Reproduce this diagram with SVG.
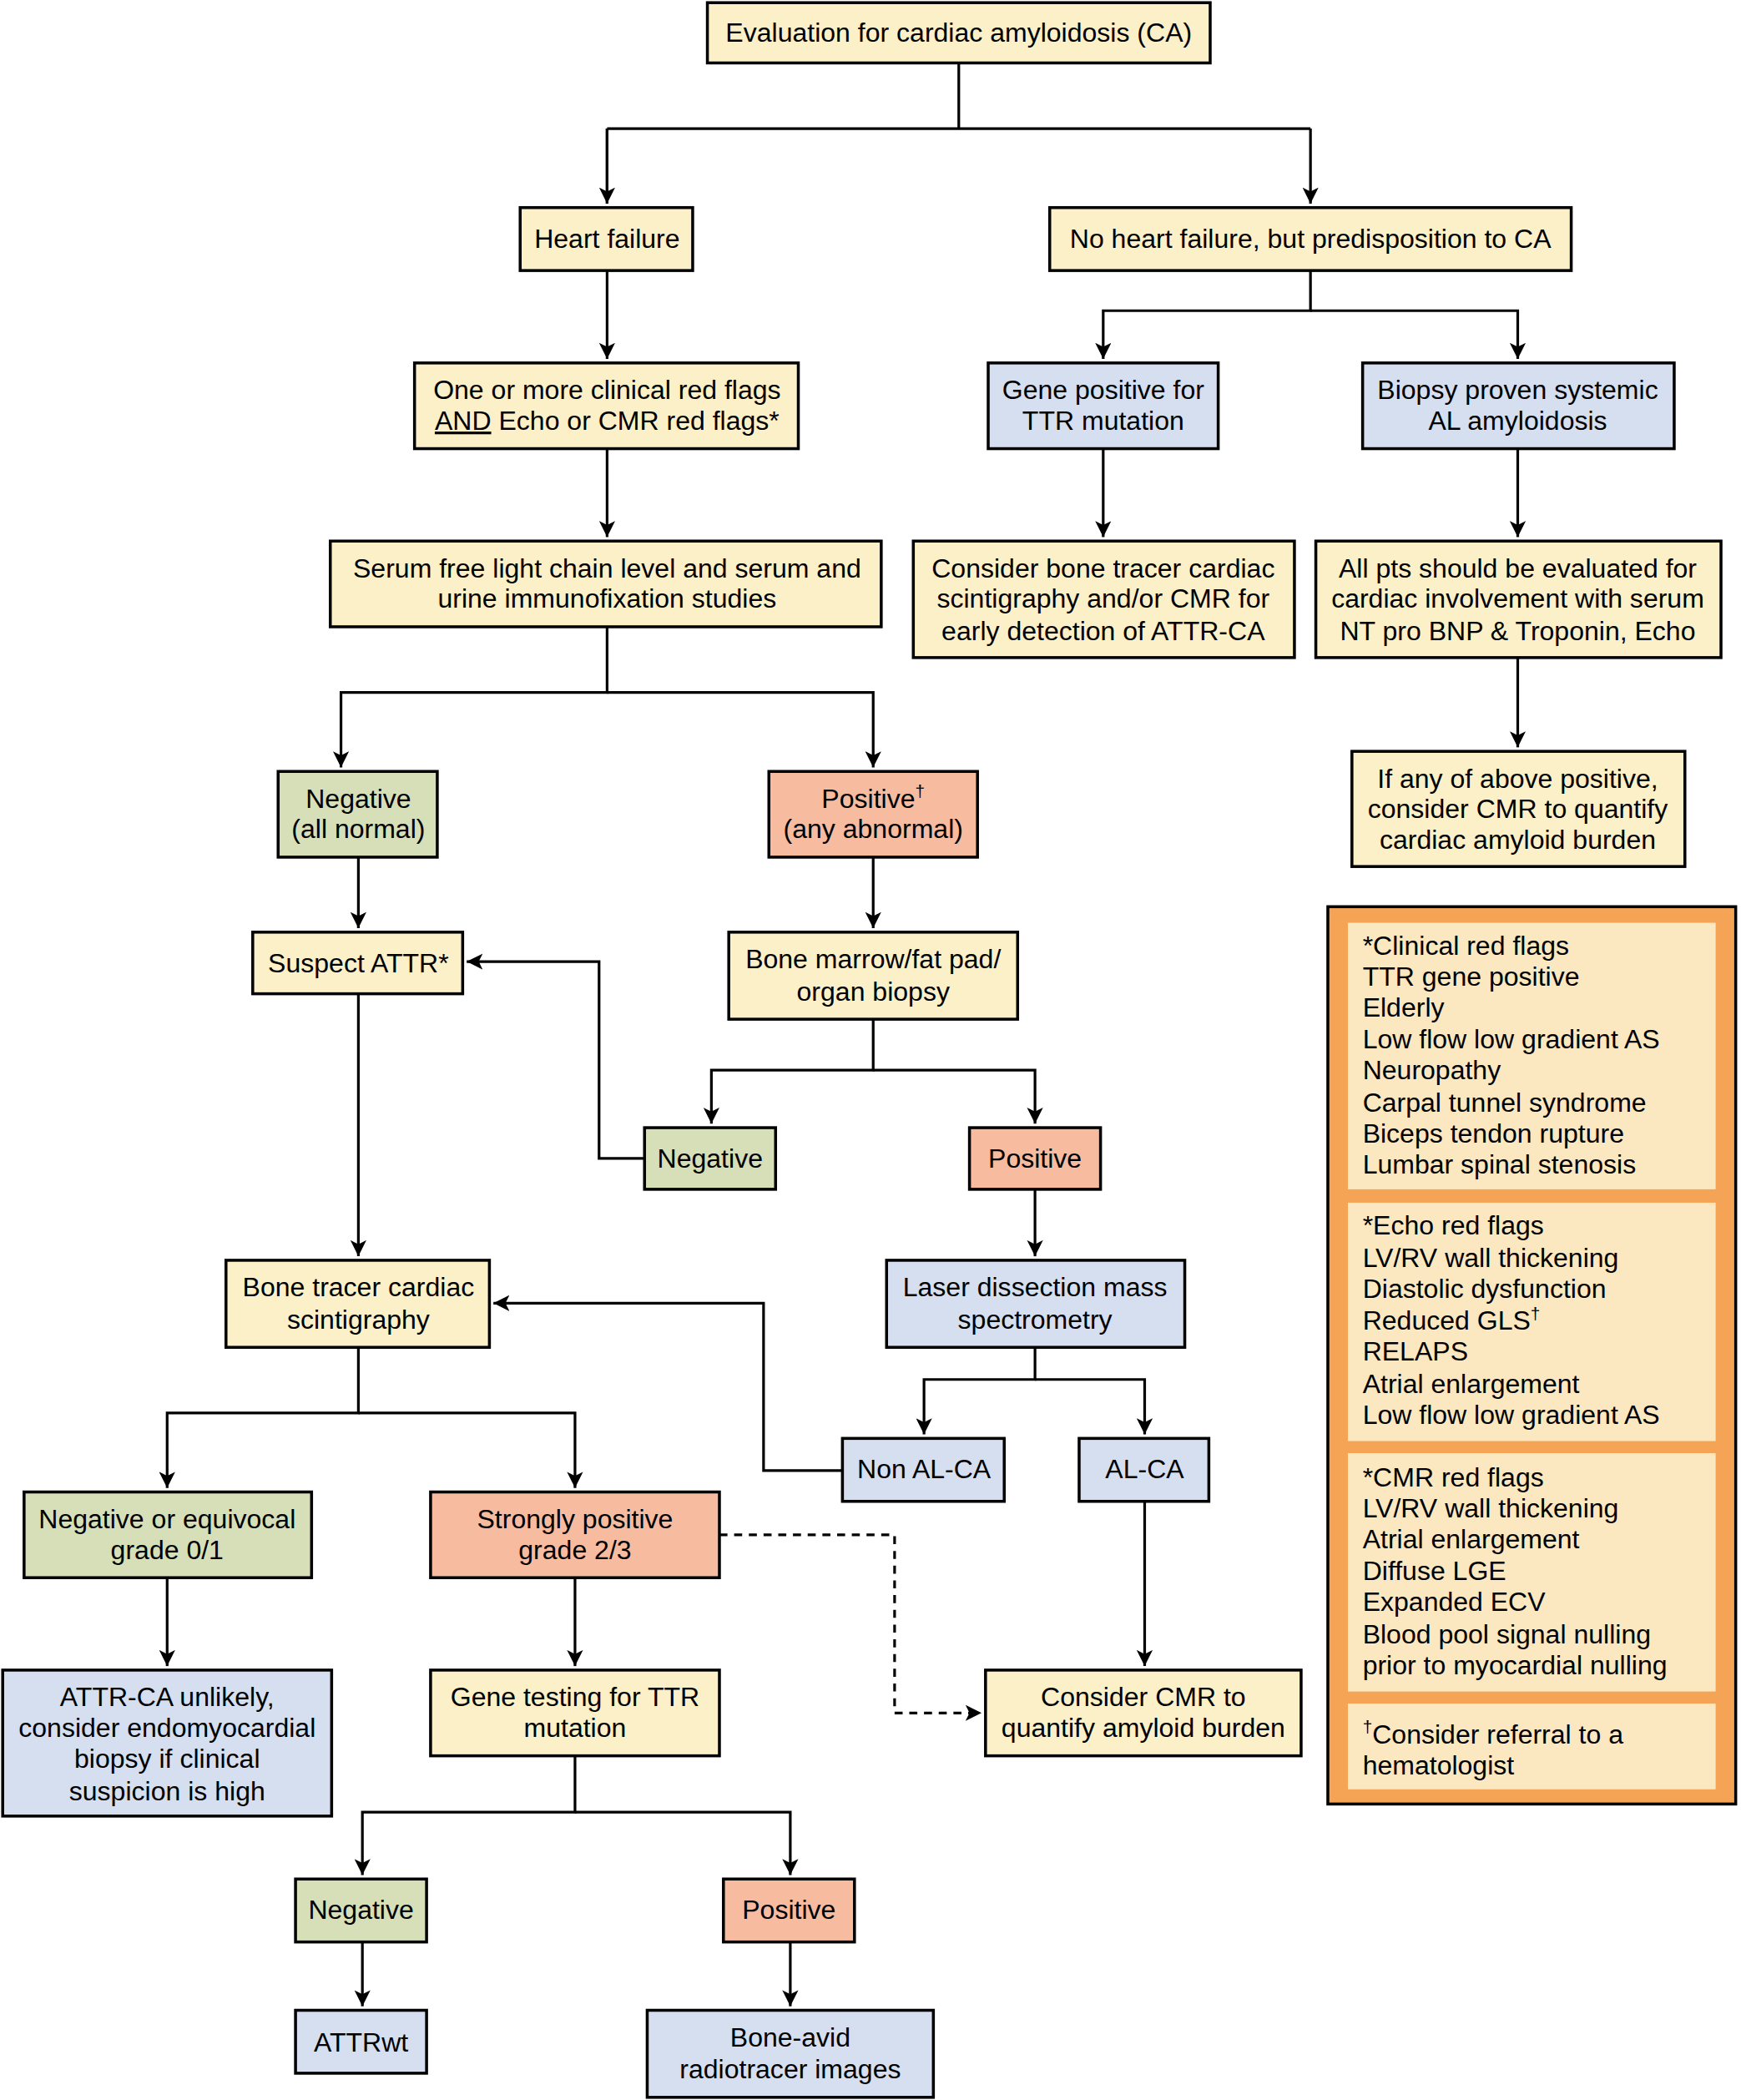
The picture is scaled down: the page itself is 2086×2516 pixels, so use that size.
<svg xmlns="http://www.w3.org/2000/svg" width="2086" height="2516" viewBox="0 0 2086 2516">
<style>
.b{stroke:#000;stroke-width:2.2}
.y{fill:#FCF0C8}.bl{fill:#D5DFF0}.g{fill:#D6DFB8}.s{fill:#F7BBA0}
text{font-family:"Liberation Sans",Arial,sans-serif;font-size:20px;fill:#000}
.c{text-anchor:middle}
.l{fill:none;stroke:#000;stroke-width:2}
</style>
<defs><marker id="a" viewBox="0 0 10 10" refX="10" refY="5" markerWidth="7" markerHeight="7" markerUnits="userSpaceOnUse" orient="auto"><path d="M0,0L10,5L0,10L3,5z" fill="#000" transform="scale(1)"/></marker>
<marker id="ar" viewBox="0 0 12 12" refX="12" refY="6" markerWidth="12" markerHeight="12" markerUnits="userSpaceOnUse" orient="auto"><path d="M0,0L12,6L0,12L3,6z" fill="#000"/></marker></defs>
<rect width="2086" height="2516" fill="#fff"/>
<g transform="scale(1.6022,1.6046)">
<g id="connectors">
<path class="l" d="M717,47V96M454,96H980M454,96V152M980,96V152" marker-end="url(#ar)"/>
<path class="l" d="M454,96V152" marker-end="url(#ar)"/>
<path class="l" d="M454,202V268" marker-end="url(#ar)"/>
<path class="l" d="M980,202V232H825V268" marker-end="url(#ar)"/>
<path class="l" d="M980,232H1135V268" marker-end="url(#ar)"/>
<path class="l" d="M454,335V401" marker-end="url(#ar)"/>
<path class="l" d="M825,335V401" marker-end="url(#ar)"/>
<path class="l" d="M1135,335V401" marker-end="url(#ar)"/>
<path class="l" d="M1135,491V558" marker-end="url(#ar)"/>
<path class="l" d="M454,468V517H255V573" marker-end="url(#ar)"/>
<path class="l" d="M454,517H653V573" marker-end="url(#ar)"/>
<path class="l" d="M268,640V693" marker-end="url(#ar)"/>
<path class="l" d="M653,640V693" marker-end="url(#ar)"/>
<path class="l" d="M653,761V799H532V839" marker-end="url(#ar)"/>
<path class="l" d="M653,799H774V839" marker-end="url(#ar)"/>
<path class="l" d="M482,865H448V718H349" marker-end="url(#ar)"/>
<path class="l" d="M774,888V938" marker-end="url(#ar)"/>
<path class="l" d="M268,742V938" marker-end="url(#ar)"/>
<path class="l" d="M774,1006V1030H691V1071" marker-end="url(#ar)"/>
<path class="l" d="M774,1030H856V1071" marker-end="url(#ar)"/>
<path class="l" d="M630,1098H571V973H369" marker-end="url(#ar)"/>
<path class="l" d="M856,1121V1244" marker-end="url(#ar)"/>
<path class="l" d="M268,1006V1055H125V1111" marker-end="url(#ar)"/>
<path class="l" d="M268,1055H430V1111" marker-end="url(#ar)"/>
<path class="l" d="M125,1178V1244" marker-end="url(#ar)"/>
<path class="l" d="M430,1178V1244" marker-end="url(#ar)"/>
<path class="l" d="M538,1146H669V1279H734" stroke-dasharray="6,5" marker-end="url(#ar)"/>
<path class="l" d="M430,1311V1353H271V1400" marker-end="url(#ar)"/>
<path class="l" d="M430,1353H591V1400" marker-end="url(#ar)"/>
<path class="l" d="M271,1450V1498" marker-end="url(#ar)"/>
<path class="l" d="M591,1450V1498" marker-end="url(#ar)"/>
</g>
<g id="n1"><rect class="b y" x="529" y="2" width="376" height="45"/><text class="c" x="717" y="31">Evaluation for cardiac amyloidosis (CA)</text></g>
<g id="n2"><rect class="b y" x="389" y="155" width="129" height="47"/><text class="c" x="454" y="185">Heart failure</text></g>
<g id="n3"><rect class="b y" x="785" y="155" width="390" height="47"/><text class="c" x="980" y="185">No heart failure, but predisposition to CA</text></g>
<g id="n4"><rect class="b y" x="310" y="271" width="287" height="64"/><text class="c" x="454" y="298">One or more clinical red flags</text><text class="c" x="454" y="321"><tspan text-decoration="underline">AND</tspan> Echo or CMR red flags*</text></g>
<g id="n5"><rect class="b bl" x="739" y="271" width="172" height="64"/><text class="c" x="825" y="298">Gene positive for</text><text class="c" x="825" y="321">TTR mutation</text></g>
<g id="n6"><rect class="b bl" x="1019" y="271" width="233" height="64"/><text class="c" x="1135" y="298">Biopsy proven systemic</text><text class="c" x="1135" y="321">AL amyloidosis</text></g>
<g id="n7"><rect class="b y" x="247" y="404" width="412" height="64"/><text class="c" x="454" y="431">Serum free light chain level and serum and</text><text class="c" x="454" y="454">urine immunofixation studies</text></g>
<g id="n8"><rect class="b y" x="683" y="404" width="285" height="87"/><text class="c" x="825" y="431">Consider bone tracer cardiac</text><text class="c" x="825" y="454">scintigraphy and/or CMR for</text><text class="c" x="825" y="478">early detection of ATTR-CA</text></g>
<g id="n9"><rect class="b y" x="984" y="404" width="303" height="87"/><text class="c" x="1135" y="431">All pts should be evaluated for</text><text class="c" x="1135" y="454">cardiac involvement with serum</text><text class="c" x="1135" y="478">NT pro BNP &amp; Troponin, Echo</text></g>
<g id="n10"><rect class="b y" x="1011" y="561" width="249" height="86"/><text class="c" x="1135" y="588">If any of above positive,</text><text class="c" x="1135" y="611">consider CMR to quantify</text><text class="c" x="1135" y="634">cardiac amyloid burden</text></g>
<g id="n11"><rect class="b g" x="208" y="576" width="119" height="64"/><text class="c" x="268" y="603">Negative</text><text class="c" x="268" y="626">(all normal)</text></g>
<g id="n12"><rect class="b s" x="575" y="576" width="156" height="64"/><text class="c" x="653" y="603">Positive<tspan font-size="13" dy="-8">†</tspan></text><text class="c" x="653" y="626">(any abnormal)</text></g>
<g id="n13"><rect class="b y" x="189" y="696" width="157" height="46"/><text class="c" x="268" y="726">Suspect ATTR*</text></g>
<g id="n14"><rect class="b y" x="545" y="696" width="216" height="65"/><text class="c" x="653" y="723">Bone marrow/fat pad/</text><text class="c" x="653" y="747">organ biopsy</text></g>
<g id="n15"><rect class="b g" x="482" y="842" width="98" height="46"/><text class="c" x="531" y="872">Negative</text></g>
<g id="n16"><rect class="b s" x="725" y="842" width="98" height="46"/><text class="c" x="774" y="872">Positive</text></g>
<g id="n17"><rect class="b y" x="169" y="941" width="197" height="65"/><text class="c" x="268" y="968">Bone tracer cardiac</text><text class="c" x="268" y="992">scintigraphy</text></g>
<g id="n18"><rect class="b bl" x="663" y="941" width="223" height="65"/><text class="c" x="774" y="968">Laser dissection mass</text><text class="c" x="774" y="992">spectrometry</text></g>
<g id="n19"><rect class="b bl" x="630" y="1074" width="121" height="47"/><text class="c" x="691" y="1104">Non AL-CA</text></g>
<g id="n20"><rect class="b bl" x="807" y="1074" width="97" height="47"/><text class="c" x="856" y="1104">AL-CA</text></g>
<g id="n21"><rect class="b g" x="18" y="1114" width="215" height="64"/><text class="c" x="125" y="1141">Negative or equivocal</text><text class="c" x="125" y="1164">grade 0/1</text></g>
<g id="n22"><rect class="b s" x="322" y="1114" width="216" height="64"/><text class="c" x="430" y="1141">Strongly positive</text><text class="c" x="430" y="1164">grade 2/3</text></g>
<g id="n23"><rect class="b bl" x="2" y="1247" width="246" height="109"/><text class="c" x="125" y="1274">ATTR-CA unlikely,</text><text class="c" x="125" y="1297">consider endomyocardial</text><text class="c" x="125" y="1320">biopsy if clinical</text><text class="c" x="125" y="1344">suspicion is high</text></g>
<g id="n24"><rect class="b y" x="322" y="1247" width="216" height="64"/><text class="c" x="430" y="1274">Gene testing for TTR</text><text class="c" x="430" y="1297">mutation</text></g>
<g id="n25"><rect class="b y" x="737" y="1247" width="236" height="64"/><text class="c" x="855" y="1274">Consider CMR to</text><text class="c" x="855" y="1297">quantify amyloid burden</text></g>
<g id="n26"><rect class="b g" x="221" y="1403" width="98" height="47"/><text class="c" x="270" y="1433">Negative</text></g>
<g id="n27"><rect class="b s" x="541" y="1403" width="98" height="47"/><text class="c" x="590" y="1433">Positive</text></g>
<g id="n28"><rect class="b bl" x="221" y="1501" width="98" height="47"/><text class="c" x="270" y="1532">ATTRwt</text></g>
<g id="n29"><rect class="b bl" x="484" y="1501" width="214" height="65"/><text class="c" x="591" y="1528">Bone-avid</text><text class="c" x="591" y="1552">radiotracer images</text></g>
<g id="legend">
<rect x="993" y="677" width="305" height="670" fill="#F5A456" stroke="#000" stroke-width="2.2"/>
<rect x="1008" y="689" width="275" height="199" fill="#FBE8C0"/>
<rect x="1008" y="898" width="275" height="178" fill="#FBE8C0"/>
<rect x="1008" y="1085" width="275" height="178" fill="#FBE8C0"/>
<rect x="1008" y="1272" width="275" height="64" fill="#FBE8C0"/>
<text x="1019" y="713">*Clinical red flags</text><text x="1019" y="736">TTR gene positive</text><text x="1019" y="759">Elderly</text><text x="1019" y="783">Low flow low gradient AS</text><text x="1019" y="806">Neuropathy</text><text x="1019" y="830">Carpal tunnel syndrome</text><text x="1019" y="853">Biceps tendon rupture</text><text x="1019" y="876">Lumbar spinal stenosis</text>
<text x="1019" y="922">*Echo red flags</text><text x="1019" y="946">LV/RV wall thickening</text><text x="1019" y="969">Diastolic dysfunction</text><text x="1019" y="993">Reduced GLS<tspan font-size="13" dy="-8">†</tspan></text><text x="1019" y="1016">RELAPS</text><text x="1019" y="1040">Atrial enlargement</text><text x="1019" y="1063">Low flow low gradient AS</text>
<text x="1019" y="1110">*CMR red flags</text><text x="1019" y="1133">LV/RV wall thickening</text><text x="1019" y="1156">Atrial enlargement</text><text x="1019" y="1180">Diffuse LGE</text><text x="1019" y="1203">Expanded ECV</text><text x="1019" y="1227">Blood pool signal nulling</text><text x="1019" y="1250">prior to myocardial nulling</text>
<text x="1019" y="1302"><tspan font-size="13" dy="-8">†</tspan><tspan dy="8">Consider referral to a</tspan></text><text x="1019" y="1325">hematologist</text>
</g>
</g>
</svg>
